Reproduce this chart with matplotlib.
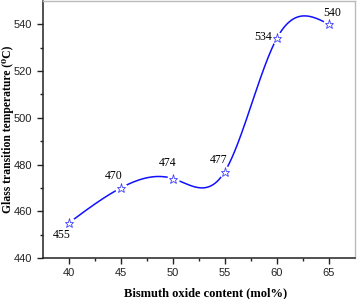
import matplotlib
matplotlib.use("Agg")
import matplotlib.pyplot as plt
import numpy as np

bismuth = [40, 45, 50, 55, 60, 65]
tg = [455, 470, 474, 477, 534, 540]
labels = ["455", "470", "474", "477", "534", "540"]
label_offsets = [(-5, -8.6), (-5, 8.6), (-3.6, 11.5), (-4.3, 8), (-10, 0.7), (2.2, 8)]

plt.rcParams.update({
    "font.family": "Liberation Sans",
    "font.size": 8,
})


def natural_spline(x, y, xs):
    x = np.asarray(x, float)
    y = np.asarray(y, float)
    n = len(x)
    h = np.diff(x)
    A = np.zeros((n, n))
    b = np.zeros(n)
    A[0, 0] = A[-1, -1] = 1
    for i in range(1, n - 1):
        A[i, i - 1] = h[i - 1]
        A[i, i] = 2 * (h[i - 1] + h[i])
        A[i, i + 1] = h[i]
        b[i] = 3 * ((y[i + 1] - y[i]) / h[i] - (y[i] - y[i - 1]) / h[i - 1])
    c = np.linalg.solve(A, b)
    out = np.empty_like(xs)
    for k, xv in enumerate(xs):
        i = min(np.searchsorted(x, xv, side="right") - 1, n - 2)
        dx = xv - x[i]
        bi = (y[i + 1] - y[i]) / h[i] - h[i] * (2 * c[i] + c[i + 1]) / 3
        di = (c[i + 1] - c[i]) / (3 * h[i])
        out[k] = y[i] + bi * dx + c[i] * dx ** 2 + di * dx ** 3
    return out


fig = plt.figure(figsize=(3.57, 2.99), dpi=100)
ax = fig.add_axes([0.120, 0.137, 0.874, 0.860])

xs = np.linspace(bismuth[0], bismuth[-1], 400)
ax.plot(xs, natural_spline(bismuth, tg, xs), color="#1010ff", linewidth=1.1, zorder=2)
ax.plot(bismuth, tg, linestyle="", marker="o", markersize=8, color="white", zorder=3)
ax.plot(bismuth, tg, linestyle="", marker="*", markersize=6.5, markerfacecolor="white",
        markeredgecolor="#4040ff", markeredgewidth=0.6, zorder=4)

for x, y, t, off in zip(bismuth, tg, labels, label_offsets):
    ax.annotate(t, xy=(x, y), xytext=off, textcoords="offset points",
                ha="center", va="center", fontsize=8.5, family="Liberation Serif")

ax.set_xlim(37.5, 67.5)
ax.set_ylim(440, 550)
ax.set_xticks(bismuth)
ax.set_yticks([440, 460, 480, 500, 520, 540])
ax.set_xticks(np.arange(42.5, 67.5, 5), minor=True)
ax.set_yticks(np.arange(450, 550, 20), minor=True)
ax.tick_params(which="both", direction="out", width=1, colors="#222222", labelsize=8)
ax.tick_params(which="major", length=4)
ax.tick_params(which="minor", length=2.5)
for s in ["left", "bottom"]:
    ax.spines[s].set_linewidth(1.1)
    ax.spines[s].set_color("#222222")
for s in ["top", "right"]:
    ax.spines[s].set_color("#bbbbbb")
    ax.spines[s].set_linewidth(1.0)

ax.set_xlabel("Bismuth oxide content (mol%)", family="Liberation Serif",
              fontweight="bold", fontsize=9)
ax.set_ylabel("Glass transition temperature (\u2070C)",
              family=["Liberation Serif", "DejaVu Serif"],
              fontweight="bold", fontsize=8.4)
ax.xaxis.set_label_coords(0.52, -0.115)
ax.yaxis.set_label_coords(-0.092, 0.5)

fig.savefig("out.png", dpi=100)
